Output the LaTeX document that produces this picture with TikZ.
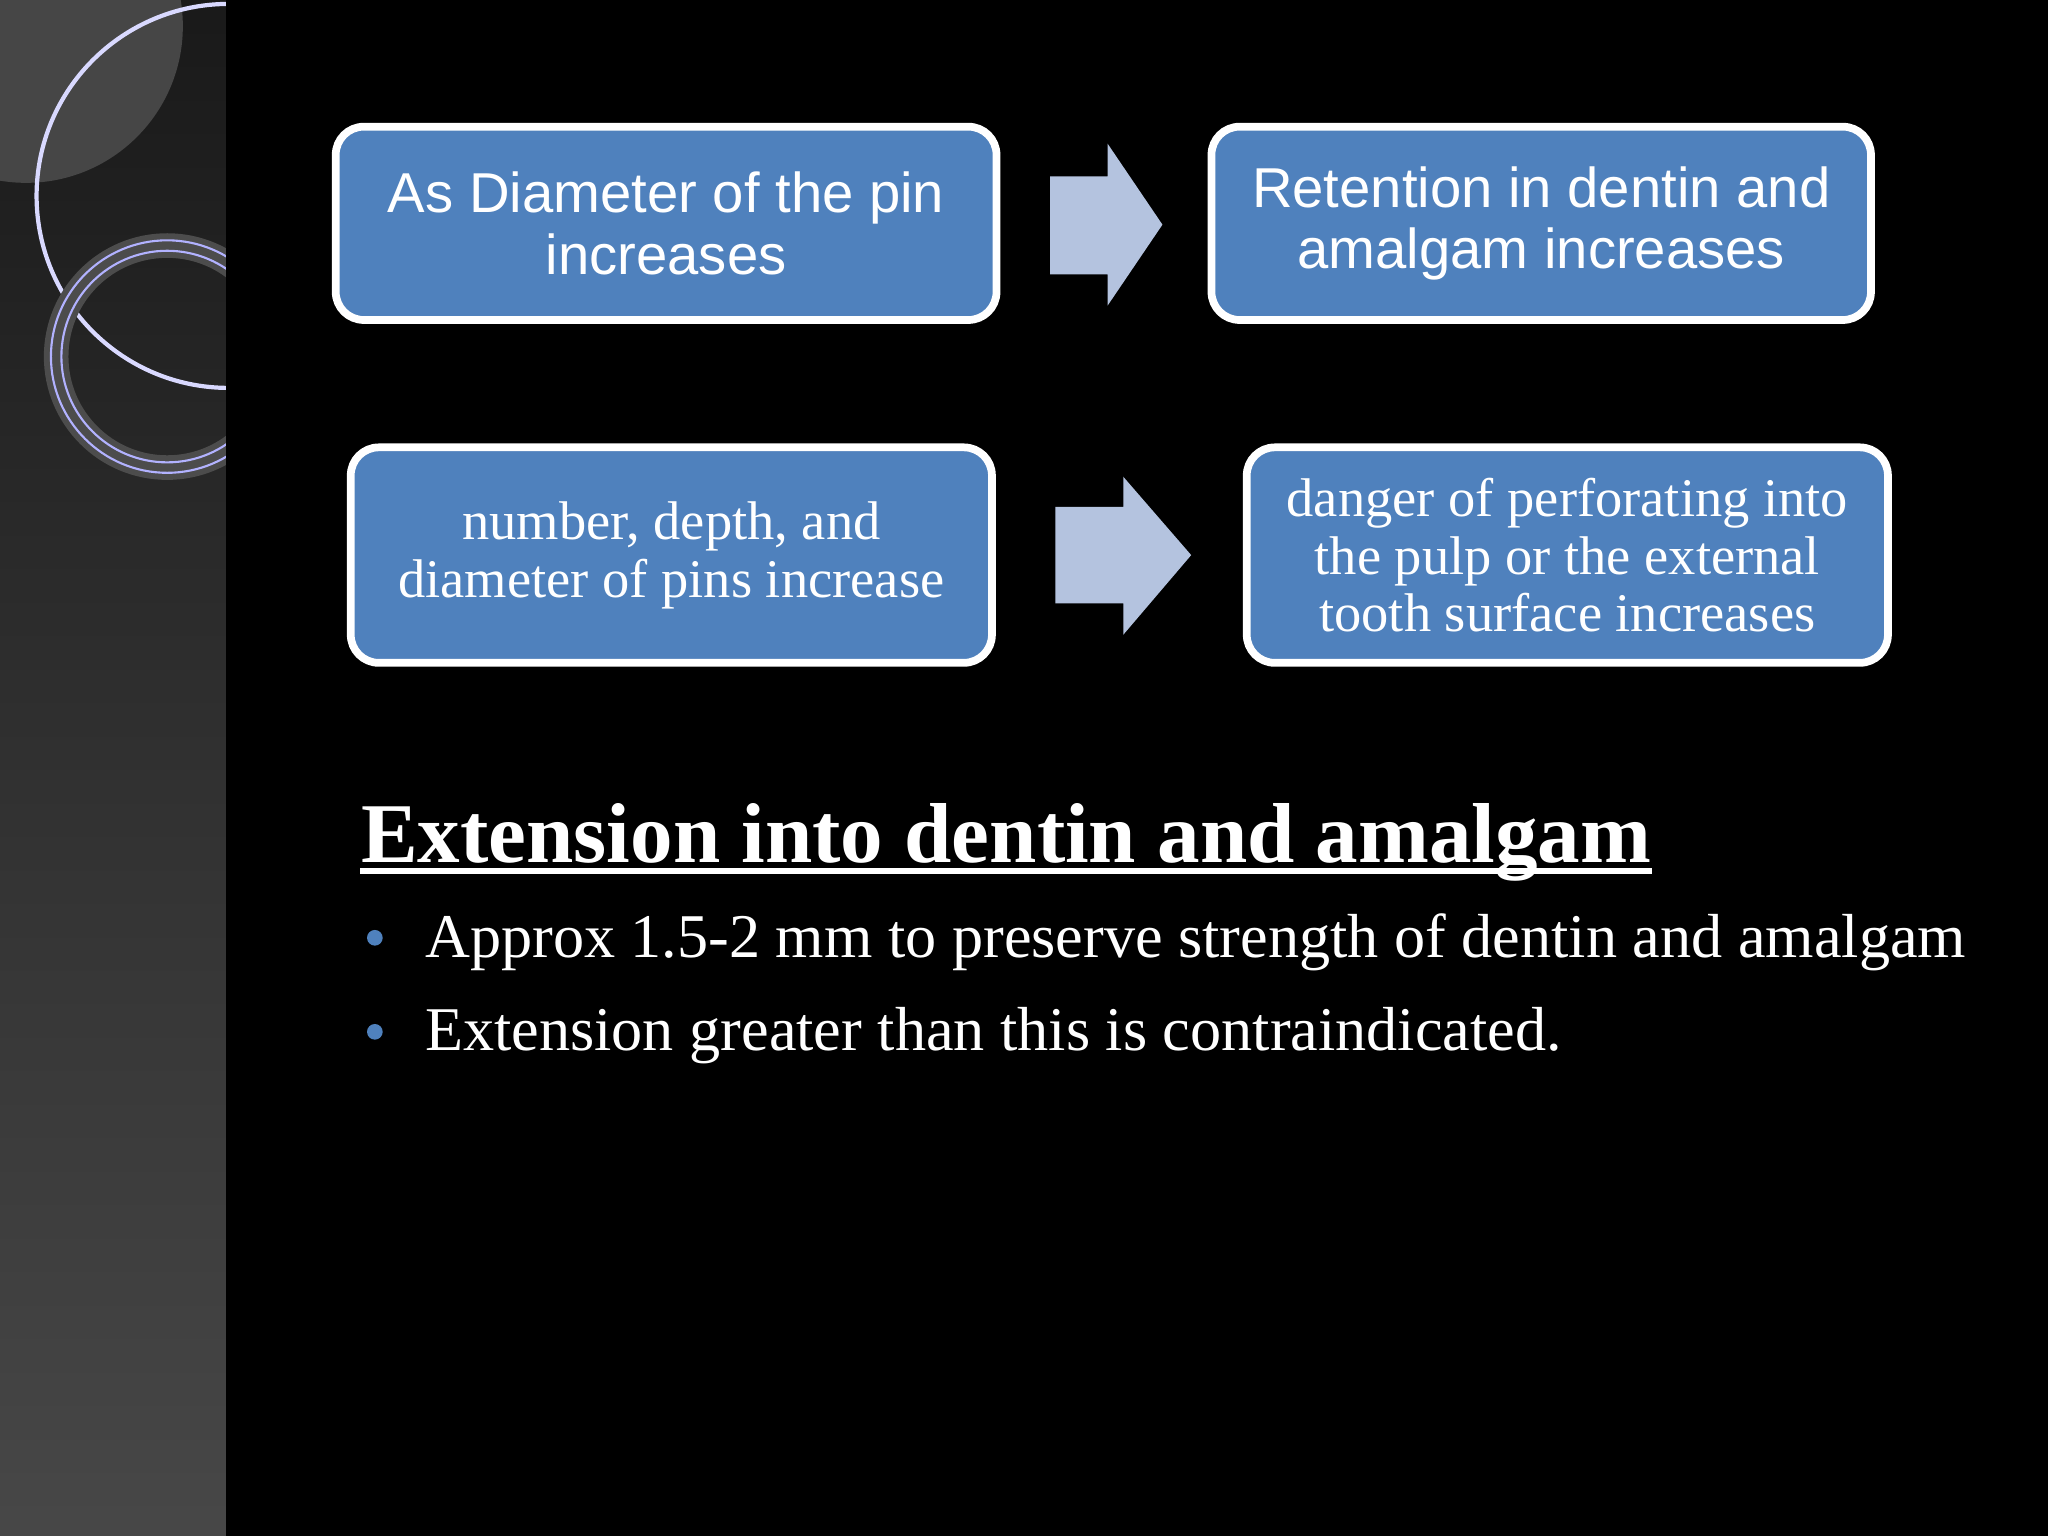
\documentclass[tikz,border=0pt]{standalone}
\usepackage{fontspec}
\setmainfont{Liberation Serif}
\newfontfamily\boxsans{Liberation Sans}
\begin{document}
\begin{tikzpicture}[x=0.01306cm,y=-0.01306cm,
  bx/.style={draw=white,line width=2.2pt,fill=boxblue,rounded corners=8pt,text=white,align=center,inner sep=0pt},
  ar/.style={fill=arrowblue,draw=none}]
\definecolor{boxblue}{HTML}{4F81BD}
\definecolor{arrowblue}{HTML}{B4C3DF}
\definecolor{bul}{HTML}{4F81BD}
\useasboundingbox (0,0) rectangle (1568,1176);
\fill[black] (0,0) rectangle (1568,1176);
\shade[top color=black!90!white, bottom color=black!72!white] (0,0) rectangle (173,1176);
\begin{scope}
\clip (0,0) rectangle (173,1176);
\fill[gray!55!black] (20,20) circle (120);
\draw[white!85!blue,line width=1.2pt] (175,150) circle (147);
\draw[gray!60!black,line width=7pt] (128,273) circle (85);
\draw[white!70!blue,line width=0.6pt] (128,273) circle (89);
\draw[white!70!blue,line width=0.6pt] (128,273) circle (81);
\end{scope}
\node[bx,minimum width=6.608cm,minimum height=1.933cm,font=\boxsans\fontsize{16}{17.5}\selectfont] (a) at (510,171) {As Diameter of the pin\\increases};
\node[bx,minimum width=6.595cm,minimum height=1.933cm,font=\boxsans\fontsize{16}{17.5}\selectfont] (b) at (1180,171) {Retention in dentin and\\amalgam increases};
\node[bx,minimum width=6.412cm,minimum height=2.155cm,font=\fontsize{15.5}{16.5}\selectfont] (c) at (514,425) {number, depth, and\\diameter of pins increase};
\node[bx,minimum width=6.412cm,minimum height=2.155cm,font=\fontsize{15.5}{16.5}\selectfont] (d) at (1200,425) {danger of perforating into\\the pulp or the external\\tooth surface increases};
\fill[ar] (804,135) -- (848,135) -- (848,110) -- (890,172) -- (848,234) -- (848,210) -- (804,210) -- cycle;
\fill[ar] (808,388) -- (860,388) -- (860,365) -- (912,425) -- (860,486) -- (860,462) -- (808,462) -- cycle;
\node[anchor=base west,text=white,inner sep=0pt,font=\bfseries\fontsize{24.2}{28}\selectfont] (h) at (276,660) {Extension into dentin and amalgam};
\draw[white,line width=1.6pt] (h.base west) ++(0,7) -- ++(989,0);
\fill[bul] (287,718) circle (6);
\fill[bul] (287,790) circle (6);
\node[anchor=base west,text=white,inner sep=0pt,font=\fontsize{17.7}{20}\selectfont] (l1) at (325,733) {Approx 1.5-2 mm to preserve strength of dentin and amalgam};
\node[anchor=base west,text=white,inner sep=0pt,font=\fontsize{17.7}{20}\selectfont] (l2) at (325,804) {Extension greater than this is contraindicated.};
\end{tikzpicture}
\end{document}
